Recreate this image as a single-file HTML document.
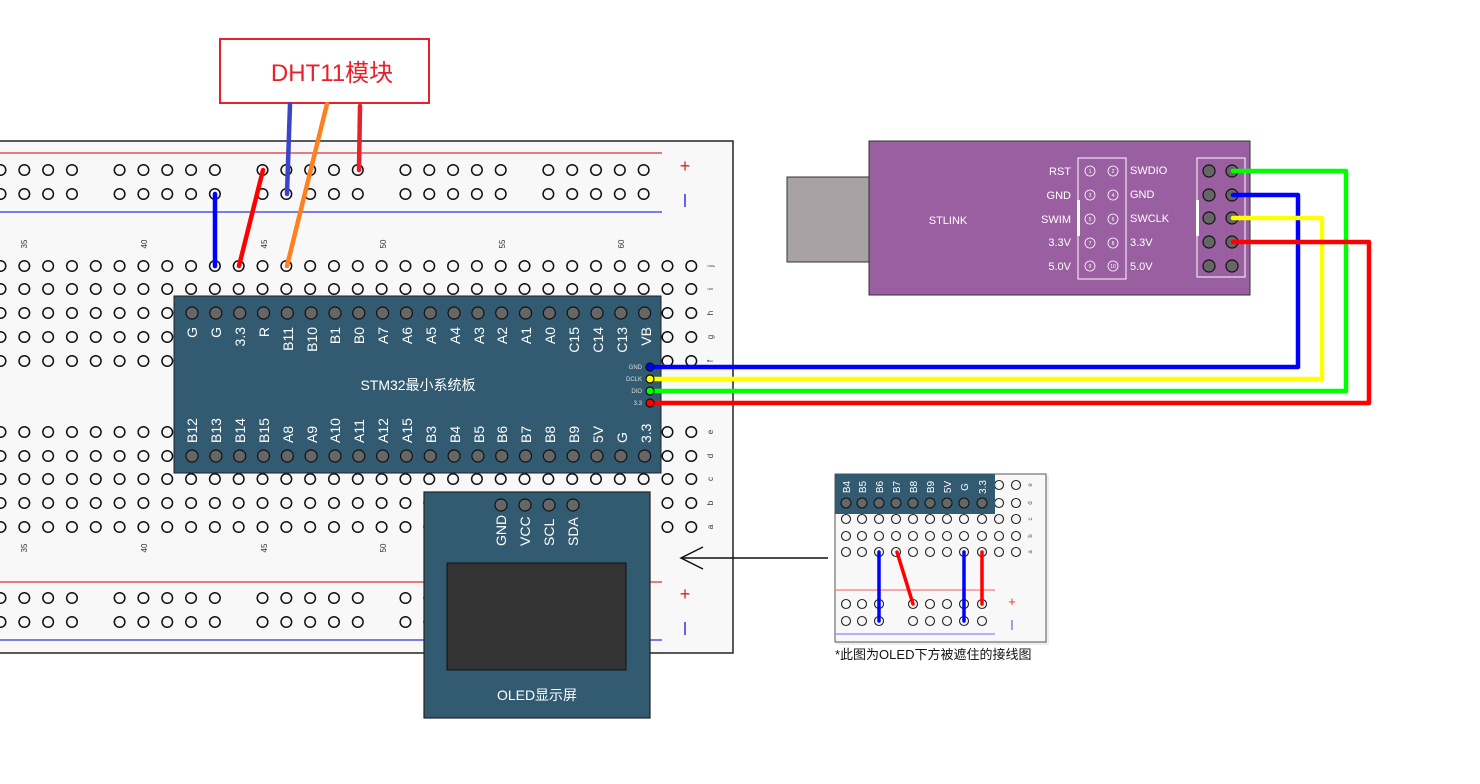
<!DOCTYPE html>
<html><head><meta charset="utf-8"><style>
html,body{margin:0;padding:0;background:#fff;}
svg{display:block;font-family:"Liberation Sans","Noto Sans CJK SC",sans-serif;}
</style></head><body>
<svg id="s" width="1480" height="784" viewBox="0 0 1480 784" xmlns="http://www.w3.org/2000/svg">
<rect width="1480" height="784" fill="#fff"/>
<rect x="-5" y="141" width="738" height="512" fill="#f8f8f8" stroke="#222" stroke-width="1.5"/>
<line x1="0" y1="153" x2="662" y2="153" stroke="#d33" stroke-width="1.2"/>
<line x1="0" y1="212" x2="662" y2="212" stroke="#33d" stroke-width="1.2"/>
<line x1="0" y1="582" x2="662" y2="582" stroke="#d33" stroke-width="1.2"/>
<line x1="0" y1="640" x2="662" y2="640" stroke="#33d" stroke-width="1.2"/>
<g fill="#d22" font-size="18"><text x="685" y="172" text-anchor="middle">+</text><text x="685" y="600" text-anchor="middle">+</text></g>
<line x1="685" y1="194" x2="685" y2="207" stroke="#33d" stroke-width="1.5"/>
<line x1="685" y1="622" x2="685" y2="635" stroke="#33d" stroke-width="1.5"/>
<g id="holes" fill="none" stroke="#111" stroke-width="1.5"></g>
<g font-size="8" fill="#333">
<text transform="translate(27,244) rotate(-90)" text-anchor="middle">35</text>
<text transform="translate(147,244) rotate(-90)" text-anchor="middle">40</text>
<text transform="translate(267,244) rotate(-90)" text-anchor="middle">45</text>
<text transform="translate(386,244) rotate(-90)" text-anchor="middle">50</text>
<text transform="translate(505,244) rotate(-90)" text-anchor="middle">55</text>
<text transform="translate(624,244) rotate(-90)" text-anchor="middle">60</text>
<text transform="translate(27,548) rotate(-90)" text-anchor="middle">35</text>
<text transform="translate(147,548) rotate(-90)" text-anchor="middle">40</text>
<text transform="translate(267,548) rotate(-90)" text-anchor="middle">45</text>
<text transform="translate(386,548) rotate(-90)" text-anchor="middle">50</text>
<text transform="translate(713,266) rotate(-90)" text-anchor="middle">j</text>
<text transform="translate(713,289) rotate(-90)" text-anchor="middle">i</text>
<text transform="translate(713,313) rotate(-90)" text-anchor="middle">h</text>
<text transform="translate(713,337) rotate(-90)" text-anchor="middle">g</text>
<text transform="translate(713,361) rotate(-90)" text-anchor="middle">f</text>
<text transform="translate(713,432) rotate(-90)" text-anchor="middle">e</text>
<text transform="translate(713,456) rotate(-90)" text-anchor="middle">d</text>
<text transform="translate(713,479) rotate(-90)" text-anchor="middle">c</text>
<text transform="translate(713,503) rotate(-90)" text-anchor="middle">b</text>
<text transform="translate(713,527) rotate(-90)" text-anchor="middle">a</text>
</g>
<rect x="220" y="39" width="209" height="64" fill="#fff" stroke="#e8202a" stroke-width="2"/>
<text x="332" y="81" font-size="24" fill="#e8202a" text-anchor="middle">DHT11模块</text>
<g stroke-linecap="round" stroke-width="4.5" fill="none">
<line x1="290" y1="104" x2="287" y2="194" stroke="#3b45c8"/>
<line x1="327" y1="104" x2="287" y2="266" stroke="#ff8020"/>
<line x1="360" y1="106" x2="359" y2="170" stroke="#e8202a"/>
<line x1="263" y1="170" x2="239" y2="266" stroke="#f00"/>
<line x1="215" y1="194" x2="215" y2="266" stroke="#00f"/>
</g>
<rect x="174" y="296" width="487" height="177" fill="#325a70" stroke="#222" stroke-width="1"/>
<g id="pins" fill="#666" stroke="#111" stroke-width="1.2"></g>
<text x="418" y="390" font-size="14" fill="#fff" text-anchor="middle">STM32最小系统板</text>
<g font-size="14" fill="#fff">
<text transform="translate(197,327) rotate(-90)" text-anchor="end">G</text>
<text transform="translate(221,327) rotate(-90)" text-anchor="end">G</text>
<text transform="translate(245,327) rotate(-90)" text-anchor="end">3.3</text>
<text transform="translate(269,327) rotate(-90)" text-anchor="end">R</text>
<text transform="translate(293,327) rotate(-90)" text-anchor="end">B11</text>
<text transform="translate(317,327) rotate(-90)" text-anchor="end">B10</text>
<text transform="translate(340,327) rotate(-90)" text-anchor="end">B1</text>
<text transform="translate(364,327) rotate(-90)" text-anchor="end">B0</text>
<text transform="translate(388,327) rotate(-90)" text-anchor="end">A7</text>
<text transform="translate(412,327) rotate(-90)" text-anchor="end">A6</text>
<text transform="translate(436,327) rotate(-90)" text-anchor="end">A5</text>
<text transform="translate(460,327) rotate(-90)" text-anchor="end">A4</text>
<text transform="translate(484,327) rotate(-90)" text-anchor="end">A3</text>
<text transform="translate(507,327) rotate(-90)" text-anchor="end">A2</text>
<text transform="translate(531,327) rotate(-90)" text-anchor="end">A1</text>
<text transform="translate(555,327) rotate(-90)" text-anchor="end">A0</text>
<text transform="translate(579,327) rotate(-90)" text-anchor="end">C15</text>
<text transform="translate(603,327) rotate(-90)" text-anchor="end">C14</text>
<text transform="translate(627,327) rotate(-90)" text-anchor="end">C13</text>
<text transform="translate(651,327) rotate(-90)" text-anchor="end">VB</text>
</g>
<g font-size="14" fill="#fff">
<text transform="translate(197,443) rotate(-90)">B12</text>
<text transform="translate(221,443) rotate(-90)">B13</text>
<text transform="translate(245,443) rotate(-90)">B14</text>
<text transform="translate(269,443) rotate(-90)">B15</text>
<text transform="translate(293,443) rotate(-90)">A8</text>
<text transform="translate(317,443) rotate(-90)">A9</text>
<text transform="translate(340,443) rotate(-90)">A10</text>
<text transform="translate(364,443) rotate(-90)">A11</text>
<text transform="translate(388,443) rotate(-90)">A12</text>
<text transform="translate(412,443) rotate(-90)">A15</text>
<text transform="translate(436,443) rotate(-90)">B3</text>
<text transform="translate(460,443) rotate(-90)">B4</text>
<text transform="translate(484,443) rotate(-90)">B5</text>
<text transform="translate(507,443) rotate(-90)">B6</text>
<text transform="translate(531,443) rotate(-90)">B7</text>
<text transform="translate(555,443) rotate(-90)">B8</text>
<text transform="translate(579,443) rotate(-90)">B9</text>
<text transform="translate(603,443) rotate(-90)">5V</text>
<text transform="translate(627,443) rotate(-90)">G</text>
<text transform="translate(651,443) rotate(-90)">3.3</text>
</g>
<g font-size="6" fill="#ddd" text-anchor="end">
<text x="642" y="369">GND</text><text x="642" y="381">DCLK</text><text x="642" y="393">DIO</text><text x="642" y="405">3.3</text>
</g>
<g fill="none" stroke-width="4.5" stroke-linejoin="round">
<polyline points="650,367 1298,367 1298,195 1232,195" stroke="#00f"/>
<polyline points="650,379 1322,379 1322,218 1232,218" stroke="#ff0"/>
<polyline points="650,391 1346,391 1346,171 1232,171" stroke="#0f0"/>
<polyline points="650,403 1369,403 1369,242 1232,242" stroke="#f00"/>
</g>
<g stroke="#111" stroke-width="1.2">
<circle cx="650" cy="367" r="4" fill="#00f"/><circle cx="650" cy="379" r="4" fill="#ff0"/>
<circle cx="650" cy="391" r="4" fill="#0f0"/><circle cx="650" cy="403" r="4" fill="#f00"/>
</g>
<rect x="787" y="177" width="84" height="85" fill="#a9a2a4" stroke="#333"/>
<rect x="869" y="141" width="381" height="154" fill="#9a5fa0" stroke="#333"/>
<text x="948" y="224" font-size="11" fill="#fff" text-anchor="middle">STLINK</text>
<rect x="1078" y="158" width="48" height="121" fill="none" stroke="#fff" stroke-width="1"/>
<rect x="1077" y="200" width="3" height="36" fill="#fff"/>
<rect x="1197" y="158" width="48" height="119" fill="none" stroke="#fff" stroke-width="1"/>
<rect x="1196" y="200" width="3" height="36" fill="#fff"/>
<g font-size="11" fill="#fff">
<g text-anchor="end"><text x="1071" y="175">RST</text><text x="1071" y="199">GND</text><text x="1071" y="223">SWIM</text><text x="1071" y="246">3.3V</text><text x="1071" y="270">5.0V</text></g>
<text x="1130" y="174">SWDIO</text><text x="1130" y="198">GND</text><text x="1130" y="222">SWCLK</text><text x="1130" y="246">3.3V</text><text x="1130" y="270">5.0V</text>
</g>
<g fill="none" stroke="#fff" stroke-width="0.8">
<circle cx="1090" cy="171" r="5"/><circle cx="1113" cy="171" r="5"/>
<circle cx="1090" cy="195" r="5"/><circle cx="1113" cy="195" r="5"/>
<circle cx="1090" cy="219" r="5"/><circle cx="1113" cy="219" r="5"/>
<circle cx="1090" cy="243" r="5"/><circle cx="1113" cy="243" r="5"/>
<circle cx="1090" cy="266" r="5"/><circle cx="1113" cy="266" r="5"/>
</g>
<g font-size="5" fill="#fff" text-anchor="middle">
<text x="1090" y="173">1</text><text x="1113" y="173">2</text><text x="1090" y="197">3</text><text x="1113" y="197">4</text><text x="1090" y="221">5</text><text x="1113" y="221">6</text><text x="1090" y="245">7</text><text x="1113" y="245">8</text><text x="1090" y="268">9</text><text x="1113" y="268">10</text>
</g>
<g fill="#666" stroke="#111" stroke-width="1.2">
<circle cx="1209" cy="171" r="6"/><circle cx="1209" cy="195" r="6"/><circle cx="1209" cy="218" r="6"/><circle cx="1209" cy="242" r="6"/><circle cx="1209" cy="266" r="6"/>
<circle cx="1232" cy="266" r="6"/>
<circle cx="1232" cy="171" r="6"/><circle cx="1232" cy="195" r="6"/><circle cx="1232" cy="218" r="6"/><circle cx="1232" cy="242" r="6"/>
</g>
<g fill="none" stroke-width="4.5" stroke-linecap="round">
<line x1="1233" y1="171" x2="1250" y2="171" stroke="#0f0"/><line x1="1233" y1="195" x2="1250" y2="195" stroke="#00f"/>
<line x1="1233" y1="218" x2="1250" y2="218" stroke="#ff0"/><line x1="1233" y1="242" x2="1250" y2="242" stroke="#f00"/>
</g>
<rect x="424" y="492" width="226" height="226" fill="#325a70" stroke="#222" stroke-width="1.2"/>
<g fill="#666" stroke="#111" stroke-width="1.2">
<circle cx="501" cy="505" r="6"/><circle cx="525" cy="505" r="6"/><circle cx="549" cy="505" r="6"/><circle cx="573" cy="505" r="6"/>
</g>
<g font-size="14" fill="#fff">
<text transform="translate(506,546) rotate(-90)">GND</text>
<text transform="translate(530,546) rotate(-90)">VCC</text>
<text transform="translate(554,546) rotate(-90)">SCL</text>
<text transform="translate(578,546) rotate(-90)">SDA</text>
</g>
<rect x="447" y="563" width="179" height="107" fill="#333" stroke="#111"/>
<text x="537" y="700" font-size="14" fill="#fff" text-anchor="middle">OLED显示屏</text>
<line x1="828" y1="558" x2="681" y2="558" stroke="#111" stroke-width="1.5"/>
<polyline points="703,547 681,558 703,569" fill="none" stroke="#111" stroke-width="1.5"/>
<rect x="836" y="475" width="213" height="170" fill="#eee"/>
<rect x="835" y="474" width="211" height="168" fill="#f8f8f8" stroke="#555" stroke-width="1"/>
<line x1="835" y1="590" x2="995" y2="590" stroke="#f77" stroke-width="1.2"/>
<line x1="835" y1="634" x2="995" y2="634" stroke="#88f" stroke-width="1.2"/>
<text x="1012" y="606" font-size="13" fill="#e33" text-anchor="middle">+</text>
<line x1="1012" y1="620" x2="1012" y2="630" stroke="#66d" stroke-width="1.2"/>
<g id="iholes" fill="none" stroke="#222" stroke-width="1.1"></g>
<rect x="835" y="474" width="160" height="40" fill="#325a70"/>
<g fill="#666" stroke="#111" stroke-width="1">
<circle cx="846" cy="503" r="5"/><circle cx="862" cy="503" r="5"/><circle cx="879" cy="503" r="5"/><circle cx="896" cy="503" r="5"/><circle cx="913" cy="503" r="5"/><circle cx="930" cy="503" r="5"/><circle cx="947" cy="503" r="5"/><circle cx="964" cy="503" r="5"/><circle cx="982" cy="503" r="5"/>
</g>
<g font-size="10" fill="#fff">
<text transform="translate(850,487) rotate(-90)" text-anchor="middle">B4</text>
<text transform="translate(866,487) rotate(-90)" text-anchor="middle">B5</text>
<text transform="translate(883,487) rotate(-90)" text-anchor="middle">B6</text>
<text transform="translate(900,487) rotate(-90)" text-anchor="middle">B7</text>
<text transform="translate(917,487) rotate(-90)" text-anchor="middle">B8</text>
<text transform="translate(934,487) rotate(-90)" text-anchor="middle">B9</text>
<text transform="translate(951,487) rotate(-90)" text-anchor="middle">5V</text>
<text transform="translate(968,487) rotate(-90)" text-anchor="middle">G</text>
<text transform="translate(986,487) rotate(-90)" text-anchor="middle">3.3</text>
</g>
<g font-size="6" fill="#555">
<text transform="translate(1032,485) rotate(-90)" text-anchor="middle">e</text>
<text transform="translate(1032,503) rotate(-90)" text-anchor="middle">d</text>
<text transform="translate(1032,519) rotate(-90)" text-anchor="middle">c</text>
<text transform="translate(1032,536) rotate(-90)" text-anchor="middle">b</text>
<text transform="translate(1032,552) rotate(-90)" text-anchor="middle">a</text>
</g>
<g stroke-width="3.5" stroke-linecap="round">
<line x1="879" y1="552" x2="879" y2="621" stroke="#00f"/>
<line x1="897" y1="552" x2="913" y2="604" stroke="#f00"/>
<line x1="964" y1="552" x2="964" y2="621" stroke="#00f"/>
<line x1="982" y1="552" x2="982" y2="604" stroke="#f00"/>
</g>
<text x="835" y="659" font-size="13" fill="#111">*此图为OLED下方被遮住的接线图</text>
</svg>
<script>
var NS="http://www.w3.org/2000/svg";
function c(g,x,y,r){var e=document.createElementNS(NS,"circle");e.setAttribute("cx",x);e.setAttribute("cy",y);e.setAttribute("r",r);g.appendChild(e);}
var H=document.getElementById("holes");
var rows=[266,289,313,337,361,432,456,479,503,527];
for(var i=0;i<30;i++){var x=0.5+23.82*i;for(var j=0;j<rows.length;j++){c(H,x,rows[j],5.3);}}
var rails=[170,194,598,622];
for(var i=-1;i<28;i++){var m=((i%6)+6)%6;if(m==4)continue;var x=0.5+23.82*i;for(var j=0;j<4;j++)c(H,x,rails[j],5.3);}
var P=document.getElementById("pins");
for(var i=8;i<28;i++){var x=1.5+23.82*i;c(P,x,313,6);c(P,x,456,6);}
var I=document.getElementById("iholes");
var ix=[846,862,879,896,913,930,947,964,982,999,1016];
[485,503,519,536,552].forEach(function(y){ix.forEach(function(x){c(I,x,y,4.5);});});
[846,862,879,913,930,947,964,982].forEach(function(x){c(I,x,604,4.5);c(I,x,621,4.5);});
</script>
</body></html>
